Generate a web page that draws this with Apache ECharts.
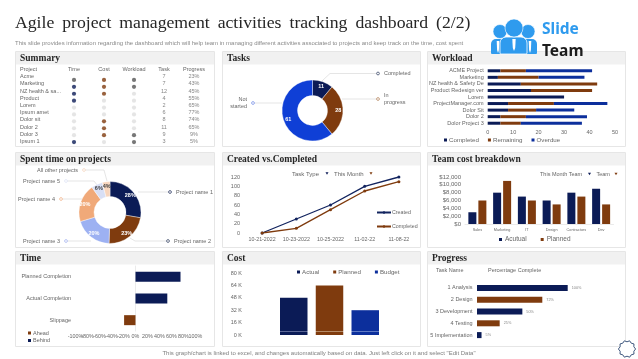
<!DOCTYPE html>
<html><head><meta charset="utf-8">
<style>html,body{margin:0;padding:0;background:#fff}#c{width:638px;height:359px}</style>
<script src="https://cdn.jsdelivr.net/npm/echarts@6/dist/echarts.min.js"></script>
</head><body><div id="c"></div>
<script>
const NAVY='#0b1b56',BROWN='#7f3b0e',BLUE='#0c2f9c',BRIGHT='#0f3fd6',GREY='#666666';
const summaryColumns=['Time','Cost','Workload','Task','Progress'];
const summaryProjects=['Acme','Marketing','NZ health & sa...','Product','Lorem','Ipsum amet','Dolor sit','Dolor 2','Dolor 3','Ipsum 1'];
const timeStatus=[2,1,1,1,0,0,0,0,0,1];
const costStatus=[1,1,1,0,0,0,1,1,1,0];
const workloadStatus=[2,2,0,0,0,0,0,0,2,2];
const taskCounts=[7,7,12,4,2,6,8,11,9,3];
const progressPct=[23,43,45,55,65,77,74,65,9,5];
const taskNames=['Completed','In\nprogress','Not\nstarted'];
const taskValues=[11,28,61];
const workloadProjects=['ACME Project','Marketing','NZ health & Safety De','Product Redesign ver','Lorem','ProjectManager.com','Dolor Sit','Dolor 2','Dolor Project 3'];
const workloadCompleted=[5,4,13,17,30,8,8,5,5];
const workloadRemaining=[10,16,30,24,0,18,11,10,8];
const workloadOverdue=[26,18,0,0,0,21,15,24,24];
const spentNames=['Project name 1','Project name 2','Project name 3','Project name 4','Project name 5','All other projects'];
const spentValues=[28,23,20,20,6,4];
const createdDates=['10-21-2022','10-23-2022','10-25-2022','11-02-22','11-08-22'];
const createdValues=[0,30,60,100,120];
const completedValues=[0,10,50,90,110];
const teamCategories=['Sales','Marketing','IT','Design','Contractors','Dev'];
const teamActual=[3000,8000,7000,6000,8000,9000];
const teamPlanned=[6000,11000,6000,5000,7000,5000];
const timeCategories=['Planned Completion','Actual Completion','Slippage'];
const timeBehind=[75,53,null];
const timeAhead=[null,null,-19];
const timeTicksA=[-100,-60,-20,20,60,100];
const timeTicksB=[-80,-40,0,40,80];
const costActual=[48];
const costPlanned=[64];
const costBudget=[32];
const progressTasks=['1 Analysis','2 Design','3 Development','4 Testing','5 Implementation'];
const progressValues=[100,72,50,25,5];

const FS='"Liberation Sans",Arial,sans-serif', SERIF='"Liberation Serif",serif';
const g=[];
function txt(x,y,t,o={}){g.push({type:'text',x,y,z:20,silent:true,style:Object.assign({text:t,fill:GREY,font:'5.5px '+FS,textAlign:'left',textVerticalAlign:'middle'},o)});}
function panel(x,y,w,h,title){
  g.push({type:'rect',z:-2,shape:{x:x+.5,y:y+.5,width:w,height:h},style:{fill:'#fff',stroke:'#e6e6e6',lineWidth:1}});
  g.push({type:'rect',z:-1,shape:{x:x+1,y:y+1,width:w-1,height:12.5},style:{fill:'#f1f1f1'}});
  txt(x+5,y+7.5,title,{fill:'#262626',font:'bold 9.5px '+SERIF});
}
function dot(x,y,c){g.push({type:'circle',z:20,shape:{cx:x,cy:y,r:1.4},style:{fill:'#fff',stroke:c,lineWidth:.8}});}
function tri(x,y,c){g.push({type:'polygon',z:20,shape:{points:[[x-1.5,y-1.2],[x+1.5,y-1.2],[x,y+1.2]]},style:{fill:c}});}

panel(15,51,199,95,'Summary');panel(222,51,198,95,'Tasks');panel(427,51,198,95,'Workload');
panel(15,152,199,95,'Spent time on projects');panel(222,152,198,95,'Created vs.Completed');panel(427,152,198,95,'Team cost breakdown');
panel(15,251,199,95,'Time');panel(222,251,198,95,'Cost');panel(427,251,198,95,'Progress');

txt(15,23,'Agile project management activities tracking dashboard (2/2)'.split(' ').join(' \u2009'),{fill:'#262626',font:'17.7px '+SERIF});
txt(15,43,'This slide provides information regarding the dashboard which will help team in managing different activities associated to projects and keep track on the time, cost spent',{fill:'#8a8a8a',font:'6px '+FS});
txt(319,353,'This graph/chart is linked to excel, and changes automatically based on data. Just left click on it and select "Edit Data"',{fill:'#7f7f7f',font:'6px '+FS,textAlign:'center'});
txt(20,69,'Project');
txt(292,174,'Task Type',{font:'6px '+FS});tri(327,173.5,NAVY);
txt(334,174,'This Month',{font:'6px '+FS});tri(371,173.5,BROWN);
txt(540,174,'This Month Team',{font:'5.5px '+FS});tri(589.5,174,NAVY);
txt(596.5,174,'Team',{font:'5.5px '+FS});tri(616,174,BROWN);
txt(436,270.5,'Task Name',{font:'5.5px '+FS});
txt(488,270.5,'Percentage Complete',{font:'5.5px '+FS});

// logo
const SKY='#2f9bee';
[[491,507],[520,537]].forEach(b=>g.push({type:'rect',z:30,shape:{x:b[0],y:39,width:b[1]-b[0],height:15,r:[5,5,1,1]},style:{fill:SKY}}));
g.push({type:'rect',z:31,shape:{x:500,y:37,width:27,height:17,r:[6,6,1,1]},style:{fill:SKY,stroke:'#fff',lineWidth:.8}});
[[500,31.5,7],[528,31.5,7],[514,28,9]].forEach(h=>g.push({type:'circle',z:32,shape:{cx:h[0],cy:h[1],r:h[2]},style:{fill:SKY,stroke:'#fff',lineWidth:.6}}));
[[498,41,1.3],[514,39,1.7],[530,41,1.3]].forEach(t=>g.push({type:'polygon',z:33,shape:{points:[[t[0]-t[2],t[1]],[t[0]+t[2],t[1]],[t[0]+t[2]*.7,t[1]+9],[t[0],t[1]+12],[t[0]-t[2]*.7,t[1]+9]]},style:{fill:'#fff'}}));
txt(542,30,'Slide',{fill:SKY,font:'bold 15.5px "Noto Sans",sans-serif',z:33});
txt(542,51.5,'Team',{fill:'#1c1c1c',font:'bold 15.5px "Noto Sans",sans-serif',z:33});
// page badge
const pts=[];for(let i=0;i<20;i++){const a=i*Math.PI/10,r=i%2?7.2:8.6;pts.push([627+r*Math.cos(a),349+r*Math.sin(a)]);}
g.push({type:'polygon',z:30,shape:{points:pts},style:{fill:'#fff',stroke:'#12305f',lineWidth:.8}});
txt(627,349,'43',{font:'5px '+FS,textAlign:'center',fill:'#555',z:31});

// markers at pie label ends
dot(378,73.5,'#44506e');dot(378,99,'#b98a66');dot(253,103,'#7f95e8');
dot(170,192,'#33406a');dot(168,241,'#44506e');dot(66,241,'#a9b8f0');dot(61,199,'#f3b78f');dot(66,181,'#dfe4f6');dot(84,170,'#f6d8c2');

const base={fontFamily:FS,fontSize:5.5,color:GREY};
const hiddenAxis={axisLine:{show:false},axisTick:{show:false},splitLine:{show:false}};
const grids=[
 {left:59,width:150,top:73,height:72},      //0 table text
 {left:59,width:150,top:76.5,height:69},    //1 table dots
 {left:487.7,width:127.3,top:67.5,height:59},//2 workload
 {left:245,width:171,top:177,height:56},    //3 created
 {left:465,width:148.5,top:177,height:47},  //4 team
 {left:75.5,width:120,top:266,height:65},   //5 time
 {left:246,width:167,top:273,height:62},    //6 cost
 {left:477,width:90.7,top:282,height:59}    //7 progress
];
const timeAxis=(ticks)=>Object.assign({gridIndex:5,type:'value',position:'bottom',min:-100,max:100,interval:20,axisLabel:Object.assign({},base,{margin:3,formatter:'{value}%',fontSize:5.4,customValues:ticks})},hiddenAxis);
const xAxis=[
 Object.assign({gridIndex:0,type:'category',position:'top',data:summaryColumns,axisLabel:Object.assign({},base,{margin:1,interval:0})},hiddenAxis),
 Object.assign({gridIndex:1,type:'category',data:summaryColumns,axisLabel:{show:false}},hiddenAxis),
 Object.assign({gridIndex:2,type:'value',min:0,max:50,interval:10,axisLabel:Object.assign({},base,{margin:3})},hiddenAxis),
 Object.assign({gridIndex:3,type:'category',data:createdDates,axisLabel:Object.assign({},base,{margin:4,interval:0,fontSize:5.3})},hiddenAxis),
 Object.assign({gridIndex:4,type:'category',data:teamCategories,axisLabel:Object.assign({},base,{margin:4,interval:0,fontSize:3.8})},hiddenAxis,{axisLine:{show:true,lineStyle:{color:'#dcdcdc',width:.6}}}),
 timeAxis(timeTicksA),
 Object.assign({gridIndex:6,type:'category',data:['Cost'],axisLabel:{show:false}},hiddenAxis),
 Object.assign({gridIndex:7,type:'value',min:0,max:100,axisLabel:{show:false}},hiddenAxis),
 timeAxis(timeTicksB)
];
const yAxis=[
 Object.assign({gridIndex:0,type:'category',inverse:true,data:summaryProjects,axisLabel:Object.assign({},base,{align:'left',margin:39,interval:0})},hiddenAxis),
 Object.assign({gridIndex:1,type:'category',inverse:true,data:summaryProjects,axisLabel:{show:false}},hiddenAxis),
 Object.assign({gridIndex:2,type:'category',inverse:true,data:workloadProjects,axisLabel:Object.assign({},base,{margin:4,interval:0})},hiddenAxis),
 Object.assign({gridIndex:3,type:'value',min:0,max:120,interval:20,axisLabel:Object.assign({},base,{margin:5})},hiddenAxis),
 Object.assign({gridIndex:4,type:'value',min:0,max:12000,interval:2000,axisLabel:Object.assign({},base,{margin:4,fontSize:6,formatter:v=>'$'+v.toLocaleString('en-US')})},hiddenAxis),
 Object.assign({gridIndex:5,type:'category',inverse:true,data:timeCategories,axisLabel:Object.assign({},base,{margin:4.5,interval:0})},hiddenAxis,{axisLine:{show:true,onZero:true,lineStyle:{color:'#dddddd',width:.6}}}),
 Object.assign({gridIndex:6,type:'value',min:0,max:80,interval:16,axisLabel:Object.assign({},base,{margin:4,formatter:'{value} K'})},hiddenAxis),
 Object.assign({gridIndex:7,type:'category',inverse:true,data:progressTasks,axisLabel:Object.assign({},base,{margin:4.5,interval:0})},hiddenAxis)
];
const dotColor=(s,on)=>s===0?'#dedede':s===2?'#555555':on;
const dots=(col,arr,on)=>({type:'scatter',xAxisIndex:1,yAxisIndex:1,symbolSize:4.2,
  data:arr.map((s,i)=>({value:[col,i],itemStyle:{color:dotColor(s,on)}}))});
const textCol=(col,arr,f)=>({type:'scatter',xAxisIndex:0,yAxisIndex:0,symbolSize:0,
  label:Object.assign({},base,{show:true,position:'inside',formatter:p=>f(arr[p.dataIndex])}),
  data:arr.map((v,i)=>[col,i])});
const stackBar=(name,arr,color)=>({name,type:'bar',xAxisIndex:2,yAxisIndex:2,stack:'w',barWidth:3,itemStyle:{color},data:arr});
const costBar=(name,arr,color,stripe)=>{
  const v=arr[0],a=3.5/v,b=5/v;
  return {name,type:'bar',xAxisIndex:6,yAxisIndex:6,barWidth:27.5,barGap:'30%',data:arr,
   itemStyle:{color:{type:'linear',x:0,y:0,x2:0,y2:1,colorStops:[{offset:0,color},{offset:1-b,color},{offset:1-b,color:stripe},{offset:1-a,color:stripe},{offset:1-a,color},{offset:1,color}]}}};
};
const pieLine={show:true,lineStyle:{color:'#d4d4d4',width:.6}};
const taskLayout=[
 {x:378,y:73.5,align:'left',line:[[322,81],[330,73.5],[378,73.5]]},
 {x:378,y:99,align:'left',line:[[342,99],[350,99],[378,99]]},
 {x:253,y:103,align:'right',line:[[282,103],[270,103],[253,103]]}];
const spentLayout=[
 {x:170,y:192,align:'left',line:[[138,192],[150,192],[170,192]]},
 {x:168,y:241,align:'left',line:[[130,238],[135,241],[168,241]]},
 {x:66,y:241,align:'right',line:[[91,241],[80,241],[66,241]]},
 {x:61,y:199,align:'right',line:[[82,199],[70,199],[61,199]]},
 {x:66,y:181,align:'right',line:[[97,185],[94,181],[66,181]]},
 {x:84,y:170,align:'right',line:[[107,181],[104,170],[84,170]]}];
const pieOuter=(names,vals,cols,center,radius,layout,inner,labelCols)=>[
 {type:'pie',center,radius,startAngle:90,silent:true,
  data:vals.map((v,i)=>({name:names[i],value:v,itemStyle:{color:cols[i],borderColor:'#fff',borderWidth:.4},
     label:{padding:layout[i].align==='left'?[0,0,0,6]:[0,6,0,0],align:layout[i].align}})),
  label:Object.assign({},base,{show:true,position:'outside',lineHeight:7.5,overflow:'none',width:80}),labelLine:pieLine,
  labelLayout:p=>{const l=layout[p.dataIndex];return {x:l.x,y:l.y,align:l.align,verticalAlign:'middle',hideOverlap:false,labelLinePoints:l.line};}},
 {type:'pie',center,radius,startAngle:90,silent:true,z:5,
  data:vals.map((v,i)=>({name:names[i]+' ',value:v,itemStyle:{color:'transparent'},label:{color:labelCols[i]}})),
  label:{show:true,position:'inside',formatter:inner,fontFamily:FS,fontSize:5.5,fontWeight:'bold'},labelLine:{show:false}}
];
const series=[
 textCol(3,taskCounts,v=>v),textCol(4,progressPct,v=>v+'%'),
 dots(0,timeStatus,NAVY),dots(1,costStatus,BROWN),dots(2,workloadStatus,'#555555'),
 ...pieOuter(taskNames,taskValues,[NAVY,BROWN,BRIGHT],[312.5,110.5],[15,30.5],taskLayout,'{c}',['#fff','#fff','#fff']),
 ...pieOuter(spentNames,spentValues,[NAVY,BROWN,'#9db1f2','#f0a979','#d8dff5','#f7d5bd'],[110,212.5],[16,31],spentLayout,'{c}%',['#fff','#fff','#fff','#fff','#444','#444']),
 stackBar('Completed',workloadCompleted,NAVY),stackBar('Remaining',workloadRemaining,BROWN),stackBar('Overdue',workloadOverdue,BLUE),
 {name:'Created',type:'line',xAxisIndex:3,yAxisIndex:3,data:createdValues,symbol:'circle',symbolSize:3,lineStyle:{color:'#12245f',width:1.3},itemStyle:{color:'#12245f'}},
 {name:'Completed ',type:'line',xAxisIndex:3,yAxisIndex:3,data:completedValues,symbol:'circle',symbolSize:3,lineStyle:{color:BROWN,width:1.3},itemStyle:{color:BROWN}},
 {name:'Acutual',type:'bar',xAxisIndex:4,yAxisIndex:4,barWidth:8,barGap:'25%',data:teamActual,itemStyle:{color:NAVY}},
 {name:'Planned ',type:'bar',xAxisIndex:4,yAxisIndex:4,barWidth:8,data:teamPlanned,itemStyle:{color:BROWN}},
 {name:'Ahead',type:'bar',xAxisIndex:5,yAxisIndex:5,stack:'t',barWidth:10,data:timeAhead,itemStyle:{color:BROWN}},
 {name:'Behind',type:'bar',xAxisIndex:5,yAxisIndex:5,stack:'t',barWidth:10,data:timeBehind,itemStyle:{color:NAVY}},
 costBar('Actual',costActual,NAVY,'#5b6796'),costBar('Planned',costPlanned,BROWN,'#b58a66'),costBar('Budget',costBudget,BLUE,'#5f7ac4'),
 {type:'bar',xAxisIndex:7,yAxisIndex:7,barWidth:6,
  data:progressValues.map((v,i)=>({value:v,itemStyle:{color:i%2?BROWN:NAVY}})),
  label:{show:true,position:'right',formatter:'{c}%',fontFamily:FS,fontSize:3.8,color:'#888',distance:4}}
];
const leg=(o,data,extra={})=>Object.assign({data,icon:'rect',itemWidth:3,itemHeight:3,itemGap:8,padding:0,selectedMode:false,textStyle:{fontFamily:FS,fontSize:6.2,color:GREY,padding:[0,0,0,-3]}},o,extra);
const legend=[
 leg({left:444,top:137},['Completed','Remaining','Overdue'],{itemGap:9}),
 {left:376,top:210,orient:'vertical',data:['Created','Completed '],itemWidth:14,itemHeight:3,itemGap:9,padding:0,selectedMode:false,textStyle:{fontFamily:FS,fontSize:5.3,color:GREY,padding:[0,0,0,-4]}},
 leg({left:499,top:236},['Acutual','Planned '],{itemGap:14,textStyle:{fontFamily:FS,fontSize:6.5,color:GREY,padding:[0,0,0,-2]}}),
 leg({left:28,top:330},['Ahead','Behind'],{orient:'vertical',itemGap:1.5,textStyle:{fontFamily:FS,fontSize:5.5,color:GREY,padding:[0,0,0,-3]}}),
 leg({left:297,top:269},['Actual','Planned','Budget'],{itemGap:14,textStyle:{fontFamily:FS,fontSize:6.2,color:GREY,padding:[0,0,0,-3]}})
];
const chart=echarts.init(document.getElementById('c'),null,{renderer:'canvas'});
chart.setOption({animation:false,backgroundColor:'#fff',grid:grids,xAxis,yAxis,series,legend,graphic:g});
</script></body></html>
